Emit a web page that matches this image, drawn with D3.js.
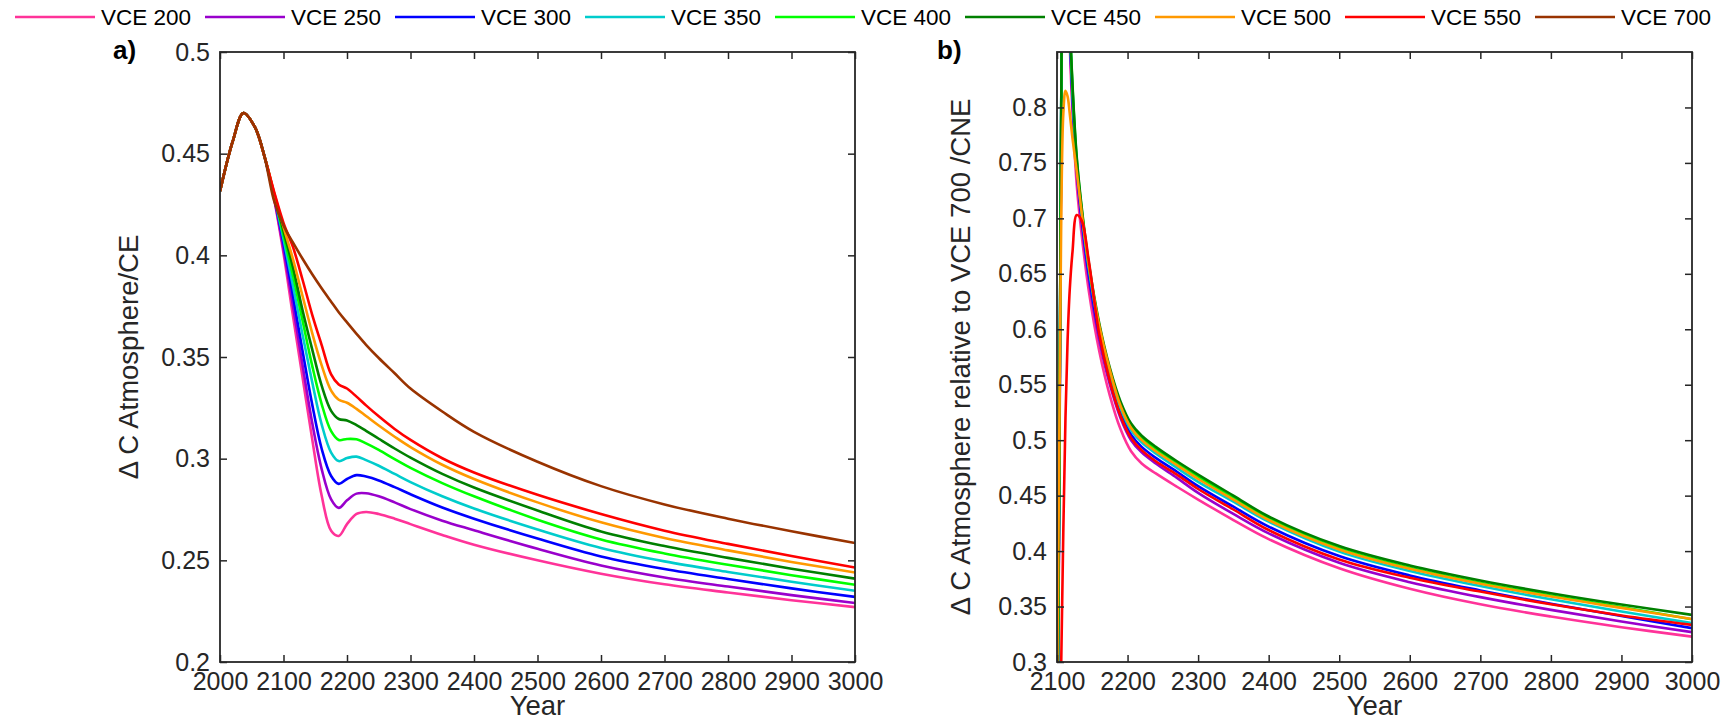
<!DOCTYPE html>
<html>
<head>
<meta charset="utf-8">
<script src="https://cdn.jsdelivr.net/npm/d3@7"></script>
<style>
  body { margin: 0; background: #fff; }
  svg text { font-family: "Liberation Sans", Arial, sans-serif; fill: #262626; }
</style>
</head>
<body>
<svg id="chart" width="1723" height="721"></svg>
<script>
// ---- data ----
const seriesNames = ["VCE 200", "VCE 250", "VCE 300", "VCE 350", "VCE 400", "VCE 450", "VCE 500", "VCE 550", "VCE 700"];
const seriesColors = ["#ff3399", "#9900cc", "#0000ff", "#00cccc", "#00ff00", "#008000", "#ff9900", "#ff0000", "#993300"];

// panel a) : Delta C Atmosphere / CE
const yearsA = [2000, 2020, 2037, 2055, 2070, 2085, 2100, 2115, 2130, 2145, 2160, 2175, 2187, 2200, 2215, 2230, 2250, 2275, 2300, 2350, 2400, 2500, 2600, 2700, 2800, 2900, 3000];
const a200 = [.4315, .456, .470, .463, .4487, .428, .401, .370, .340, .310, .282, .2645, .262, .2678, .2728, .2738, .2728, .2705, .2678, .2625, .2577, .2500, .2434, .2382, .2342, .2304, .227];
const a250 = [.4315, .456, .470, .463, .4487, .4285, .403, .375, .346, .318, .295, .280, .2758, .2795, .2828, .2830, .2815, .2785, .2752, .2695, .2648, .2557, .2475, .2416, .2371, .2329, .229];
const a300 = [.4315, .456, .470, .463, .4487, .429, .406, .380, .353, .327, .305, .2915, .2876, .2900, .2919, .2912, .2893, .2860, .2825, .2760, .2705, .2607, .2519, .2457, .2408, .2362, .232];
const a350 = [.4315, .456, .470, .463, .4487, .4295, .408, .385, .361, .338, .317, .303, .2988, .3003, .3010, .2993, .2965, .2925, .2885, .2815, .2755, .2652, .2561, .2495, .2443, .2395, .235];
const a400 = [.4315, .456, .470, .463, .4487, .430, .410, .390, .368, .346, .327, .3135, .3092, .3097, .3095, .3075, .3043, .2998, .2955, .2880, .2815, .2700, .2603, .2534, .2478, .2427, .238];
const a450 = [.4315, .456, .470, .463, .4487, .4305, .412, .394, .373, .354, .336, .3235, .3195, .3188, .3165, .3137, .3098, .3050, .3005, .2925, .2858, .2745, .2642, .2570, .2512, .2459, .241];
const a500 = [.4315, .456, .470, .463, .4487, .431, .414, .398, .380, .362, .346, .3335, .3290, .3275, .3245, .3210, .3163, .3108, .3057, .2970, .2900, .2785, .2687, .2610, .2549, .2492, .244];
const a550 = [.4315, .456, .470, .463, .4487, .4315, .416, .404, .388, .371, .356, .3415, .3365, .3345, .3305, .3262, .3208, .3146, .3092, .3002, .2932, .2822, .2728, .2646, .2581, .2521, .2465];
const a700 = [.4315, .456, .470, .463, .4487, .427, .4147, .4062, .3983, .3908, .3838, .3772, .372, .367, .3614, .356, .3495, .342, .3345, .3232, .3132, .2985, .2865, .2775, .2705, .2643, .2585];

// panel b) : Delta C Atmosphere relative to VCE 700 / CNE
const yearsB = [2100, 2103, 2106, 2109, 2112, 2115, 2118, 2122, 2128, 2135, 2145, 2160, 2175, 2190, 2205, 2220, 2240, 2270, 2300, 2350, 2400, 2500, 2600, 2700, 2800, 2900, 3000];
const b200 = [.18, .42, .78, 1.02, 1.08, .98, .86, .795, .73, .685, .635, .58, .54, .510, .490, .479, .470, .458, .4465, .428, .4108, .3845, .3660, .3520, .3410, .3314, .3229];
const b250 = [.18, .43, .79, 1.03, 1.09, .99, .87, .805, .74, .695, .645, .59, .55, .520, .500, .489, .479, .466, .4525, .4335, .4160, .3895, .3720, .3585, .3470, .3365, .3269];
const b300 = [.19, .44, .80, 1.04, 1.10, .99, .875, .81, .745, .70, .65, .595, .555, .525, .505, .494, .484, .4715, .4585, .4400, .4221, .3955, .3780, .3645, .3525, .3415, .3305];
const b350 = [.19, .44, .80, 1.04, 1.10, 1.0, .88, .815, .75, .705, .655, .60, .56, .529, .509, .498, .488, .475, .4625, .4445, .4265, .3995, .3820, .3685, .3565, .3455, .335];
const b400 = [.20, .45, .80, 1.05, 1.10, 1.0, .883, .818, .753, .708, .658, .603, .563, .533, .513, .502, .492, .479, .467, .448, .4295, .4025, .3850, .3715, .3600, .3495, .3385];
const b450 = [.20, .45, .80, 1.05, 1.10, 1.0, .885, .82, .755, .71, .66, .605, .565, .535, .515, .504, .494, .481, .469, .450, .4312, .4045, .3870, .3735, .3620, .3518, .3425];
const b500 = [.26, .48, .70, .795, .815, .81, .795, .772, .742, .705, .658, .603, .563, .531, .511, .500, .490, .4775, .465, .4465, .428, .4015, .3840, .3705, .3590, .3488, .3388];
const b550 = [.12, .20, .30, .42, .52, .59, .635, .67, .703, .698, .662, .595, .553, .522, .502, .491, .481, .469, .456, .4375, .4190, .3925, .3760, .3635, .3520, .3420, .3335];

const yTicksA = [0.2, 0.25, 0.3, 0.35, 0.4, 0.45, 0.5];
const xTicksA = [2000, 2100, 2200, 2300, 2400, 2500, 2600, 2700, 2800, 2900, 3000];
const yTicksB = [0.3, 0.35, 0.4, 0.45, 0.5, 0.55, 0.6, 0.65, 0.7, 0.75, 0.8];
const xTicksB = [2100, 2200, 2300, 2400, 2500, 2600, 2700, 2800, 2900, 3000];

// ---- layout ----
const svg = d3.select("#chart");
const plotTop = 52, plotBottom = 662;
const axisColor = "#262626";

const panelA = {
  id: "pa", left: 220, right: 855, letter: "a)", letterX: 113,
  years: yearsA, values: [a200, a250, a300, a350, a400, a450, a500, a550, a700],
  xDomain: [2000, 3000], yDomain: [0.2, 0.5], xTicks: xTicksA, yTicks: yTicksA,
  ylabel: "\u0394 C Atmosphere/CE", ylabelX: 138
};
const panelB = {
  id: "pb", left: 1057, right: 1692, letter: "b)", letterX: 937,
  years: yearsB, values: [b200, b250, b300, b350, b400, b450, b500, b550],
  xDomain: [2100, 3000], yDomain: [0.3, 0.85], xTicks: xTicksB, yTicks: yTicksB,
  ylabel: "\u0394 C Atmosphere relative to VCE 700 /CNE", ylabelX: 970
};

function drawPanel(p) {
  const x = d3.scaleLinear().domain(p.xDomain).range([p.left, p.right]);
  const y = d3.scaleLinear().domain(p.yDomain).range([plotBottom, plotTop]);
  const g = svg.append("g");

  g.append("clipPath").attr("id", p.id + "-clip")
    .append("rect")
      .attr("x", p.left).attr("y", plotTop)
      .attr("width", p.right - p.left).attr("height", plotBottom - plotTop);

  const line = d3.line()
    .x(d => x(d[0]))
    .y(d => y(d[1]))
    .curve(d3.curveCatmullRom.alpha(0.5));

  const series = p.values.map((vals, i) => ({
    name: seriesNames[i],
    color: seriesColors[i],
    pts: p.years.map((yr, j) => [yr, vals[j]])
  }));

  g.append("g")
    .attr("clip-path", `url(#${p.id}-clip)`)
    .selectAll("path")
    .data(series)
    .join("path")
      .attr("d", d => line(d.pts))
      .style("fill", "none")
      .style("stroke", d => d.color)
      .style("stroke-width", 2.6)
      .style("stroke-linejoin", "round");

  // axes, ticks pointing inward on all four sides
  const fmt = d => String(d);
  const gx = g.append("g").attr("transform", `translate(0,${plotBottom})`)
    .call(d3.axisBottom(x).tickValues(p.xTicks).tickSizeInner(-7).tickSizeOuter(0).tickPadding(10).tickFormat(d3.format("d")));
  const gy = g.append("g").attr("transform", `translate(${p.left},0)`)
    .call(d3.axisLeft(y).tickValues(p.yTicks).tickSizeInner(-7).tickSizeOuter(0).tickPadding(10).tickFormat(fmt));
  const gt = g.append("g").attr("transform", `translate(0,${plotTop})`)
    .call(d3.axisTop(x).tickValues(p.xTicks).tickSizeInner(-7).tickSizeOuter(0).tickFormat(""));
  const gr = g.append("g").attr("transform", `translate(${p.right},0)`)
    .call(d3.axisRight(y).tickValues(p.yTicks).tickSizeInner(-7).tickSizeOuter(0).tickFormat(""));

  [gx, gy, gt, gr].forEach(a => {
    a.select(".domain").remove();
    a.selectAll(".tick line").style("stroke", axisColor).style("stroke-width", 1.5);
    a.selectAll("text")
      .style("font-family", '"Liberation Sans", Arial, sans-serif')
      .style("font-size", "25px")
      .style("fill", axisColor);
  });

  g.append("rect")
    .attr("x", p.left).attr("y", plotTop)
    .attr("width", p.right - p.left).attr("height", plotBottom - plotTop)
    .style("fill", "none")
    .style("stroke", axisColor)
    .style("stroke-width", 1.8);

  g.append("text")
    .attr("x", (p.left + p.right) / 2).attr("y", 715)
    .attr("text-anchor", "middle")
    .style("font-size", "27.5px")
    .text("Year");

  g.append("text")
    .attr("transform", `translate(${p.ylabelX},${(plotTop + plotBottom) / 2}) rotate(-90)`)
    .attr("text-anchor", "middle")
    .style("font-size", "27.5px")
    .text(p.ylabel);

  g.append("text")
    .attr("x", p.letterX).attr("y", 59)
    .style("font-size", "26px")
    .style("font-weight", "bold")
    .style("fill", "#000")
    .text(p.letter);
}

drawPanel(panelA);
drawPanel(panelB);

// legend across the top
const legend = svg.append("g")
  .selectAll("g")
  .data(seriesNames)
  .join("g")
    .attr("transform", (d, i) => `translate(${15 + 190 * i},17)`);

legend.append("line")
  .attr("x1", 0).attr("x2", 80)
  .style("stroke", (d, i) => seriesColors[i])
  .style("stroke-width", 2.6);

legend.append("text")
  .attr("x", 86).attr("y", 8)
  .style("font-size", "22.5px")
  .style("fill", "#000")
  .text(d => d);
</script>
</body>
</html>
